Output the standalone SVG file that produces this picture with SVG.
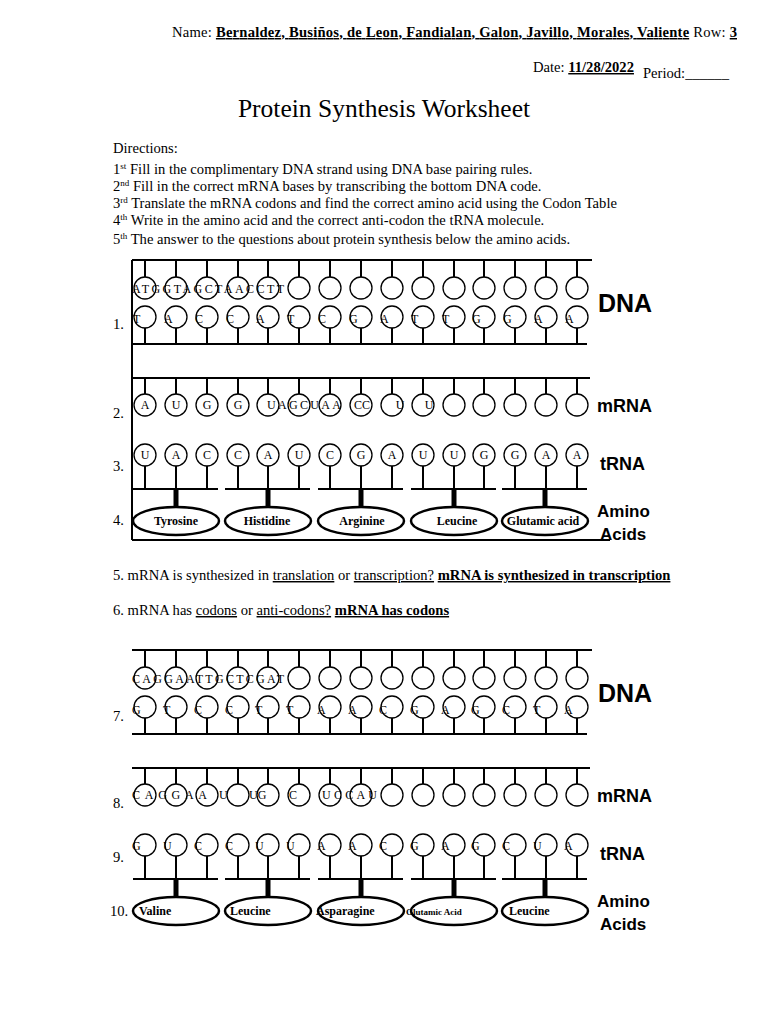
<svg xmlns="http://www.w3.org/2000/svg" width="768" height="1024" viewBox="0 0 768 1024">
<style>
.t{font-family:"Liberation Serif",serif;font-size:14.6px;fill:#000}
.b{font-weight:bold}
.s{font-family:"Liberation Serif",serif;font-size:12px;fill:#000}
.h{font-family:"Liberation Sans",sans-serif;font-weight:bold;fill:#000}
.am{font-family:"Liberation Serif",serif;font-weight:bold;font-size:12px;fill:#000;text-anchor:middle}
line{stroke:#000;stroke-width:2}
circle{fill:#fff;stroke:#000;stroke-width:1.3}
ellipse{fill:#fff;stroke:#000;stroke-width:2.5}
</style>
<defs>
<g id="dnaCol"><line x1="0" y1="0" x2="0" y2="17"/><circle cx="0" cy="28" r="11"/><circle cx="0" cy="57" r="11"/><line x1="0" y1="68" x2="0" y2="84"/></g>
<g id="mCol"><line x1="0" y1="0" x2="0" y2="16"/><circle cx="0" cy="27" r="11"/></g>
<g id="tCol"><circle cx="0" cy="0" r="11"/><line x1="0" y1="11" x2="0" y2="34"/></g>
<g id="amino"><line x1="-13" y1="34" x2="72" y2="34"/><line x1="30" y1="34" x2="30" y2="56" style="stroke-width:5"/><ellipse cx="30" cy="66" rx="43" ry="14"/></g>
<g id="section">
<line x1="132" y1="0" x2="592" y2="0"/><line x1="132" y1="84" x2="587" y2="84"/><line x1="132" y1="118" x2="590" y2="118"/>
<g id="cols">
<use href="#dnaCol" x="145"/><use href="#dnaCol" x="176"/><use href="#dnaCol" x="207"/><use href="#dnaCol" x="238"/><use href="#dnaCol" x="268"/><use href="#dnaCol" x="299"/><use href="#dnaCol" x="330"/><use href="#dnaCol" x="361"/><use href="#dnaCol" x="392"/><use href="#dnaCol" x="423"/><use href="#dnaCol" x="454"/><use href="#dnaCol" x="484"/><use href="#dnaCol" x="515"/><use href="#dnaCol" x="546"/><use href="#dnaCol" x="577"/>
</g>
<g transform="translate(0,118)">
<use href="#mCol" x="145"/><use href="#mCol" x="176"/><use href="#mCol" x="207"/><use href="#mCol" x="238"/><use href="#mCol" x="268"/><use href="#mCol" x="299"/><use href="#mCol" x="330"/><use href="#mCol" x="361"/><use href="#mCol" x="392"/><use href="#mCol" x="423"/><use href="#mCol" x="454"/><use href="#mCol" x="484"/><use href="#mCol" x="515"/><use href="#mCol" x="546"/><use href="#mCol" x="577"/>
</g>
<g transform="translate(0,195)">
<use href="#tCol" x="145"/><use href="#tCol" x="176"/><use href="#tCol" x="207"/><use href="#tCol" x="238"/><use href="#tCol" x="268"/><use href="#tCol" x="299"/><use href="#tCol" x="330"/><use href="#tCol" x="361"/><use href="#tCol" x="392"/><use href="#tCol" x="423"/><use href="#tCol" x="454"/><use href="#tCol" x="484"/><use href="#tCol" x="515"/><use href="#tCol" x="546"/><use href="#tCol" x="577"/>
<use href="#amino" x="146"/><use href="#amino" x="238"/><use href="#amino" x="331"/><use href="#amino" x="424"/><use href="#amino" x="515"/>
</g>
<text class="h" x="598" y="52" font-size="25">DNA</text>
<text class="h" x="597" y="152" font-size="18">mRNA</text>
<text class="h" x="600" y="210" font-size="18">tRNA</text>
<text class="h" x="597" y="257" font-size="17">Amino</text>
<text class="h" x="600" y="280" font-size="17">Acids</text>
</g>
</defs>

<g id="header">
<text class="t" x="172" y="37" textLength="565">Name: <tspan class="b" text-decoration="underline">Bernaldez, Busiños, de Leon, Fandialan, Galon, Javillo, Morales, Valiente</tspan> Row: <tspan class="b" text-decoration="underline">3</tspan></text>
<text class="t" x="533" y="72">Date: <tspan class="b" text-decoration="underline">11/28/2022</tspan></text>
<text class="t" x="643" y="78">Period:______</text>
<text x="384" y="117" text-anchor="middle" style="font-family:'Liberation Serif',serif;font-size:25.5px">Protein Synthesis Worksheet</text>
<text class="t" x="113" y="153">Directions:</text>
<text class="t" x="113" y="174">1<tspan font-size="9" dy="-5">st</tspan><tspan dy="5"> Fill in the complimentary DNA strand using DNA base pairing rules.</tspan></text>
<text class="t" x="113" y="191">2<tspan font-size="9" dy="-5">nd</tspan><tspan dy="5"> Fill in the correct mRNA bases by transcribing the bottom DNA code.</tspan></text>
<text class="t" x="113" y="208">3<tspan font-size="9" dy="-5">rd</tspan><tspan dy="5"> Translate the mRNA codons and find the correct amino acid using the Codon Table</tspan></text>
<text class="t" x="113" y="225">4<tspan font-size="9" dy="-5">th</tspan><tspan dy="5"> Write in the amino acid and the correct anti-codon the tRNA molecule.</tspan></text>
<text class="t" x="113" y="244">5<tspan font-size="9" dy="-5">th</tspan><tspan dy="5"> The answer to the questions about protein synthesis below the amino acids.</tspan></text>
</g>

<g id="section1">
<line x1="132" y1="260" x2="132" y2="540"/><line x1="132" y1="540" x2="610" y2="540"/>
<use href="#section" y="260"/>
<text class="t" x="113" y="329">1.</text><text class="t" x="113" y="418">2.</text><text class="t" x="113" y="471">3.</text><text class="t" x="113" y="525">4.</text>
<text class="s" x="132" y="293" textLength="152">ATGGTAGCTAACCTT</text>
<g class="s" transform="translate(-6,323)"><text x="139">T</text><text x="170">A</text><text x="201">C</text><text x="232">C</text><text x="262">A</text><text x="293">T</text><text x="324">C</text><text x="355">G</text><text x="386">A</text><text x="417">T</text><text x="448">T</text><text x="478">G</text><text x="509">G</text><text x="540">A</text><text x="571">A</text></g>
<g class="s" text-anchor="middle"><text x="145" y="409">A</text><text x="176" y="409">U</text><text x="207" y="409">G</text><text x="238" y="409">G</text><text x="267" y="409" text-anchor="start" textLength="74">UAGCUAA</text><text x="362" y="409">CC</text><text x="400" y="409">U</text><text x="429" y="409">U</text></g>
<g class="s" text-anchor="middle"><text x="145" y="459">U</text><text x="176" y="459">A</text><text x="207" y="459">C</text><text x="238" y="459">C</text><text x="268" y="459">A</text><text x="299" y="459">U</text><text x="330" y="459">C</text><text x="361" y="459">G</text><text x="392" y="459">A</text><text x="423" y="459">U</text><text x="454" y="459">U</text><text x="484" y="459">G</text><text x="515" y="459">G</text><text x="546" y="459">A</text><text x="577" y="459">A</text></g>
<text class="am" x="176" y="525">Tyrosine</text><text class="am" x="267" y="525">Histidine</text><text class="am" x="362" y="525">Arginine</text><text class="am" x="457" y="525">Leucine</text><text class="am" x="543" y="525" font-size="9">Glutamic acid</text>
</g>

<g id="questions">
<text class="t" x="113" y="580">5.  mRNA is synthesized in <tspan text-decoration="underline">translation</tspan> or <tspan text-decoration="underline">transcription?</tspan> <tspan class="b" text-decoration="underline">mRNA is synthesized in transcription</tspan></text>
<text class="t" x="113" y="615">6.  mRNA has <tspan text-decoration="underline">codons</tspan> or <tspan text-decoration="underline">anti-codons?</tspan> <tspan class="b" text-decoration="underline">mRNA has codons</tspan></text>
</g>

<g id="section2">
<use href="#section" y="650"/>
<text class="t" x="113" y="721">7.</text><text class="t" x="113" y="808">8.</text><text class="t" x="113" y="862">9.</text><text class="t" x="110" y="916">10.</text>
<text class="s" x="132" y="683" textLength="152">CAGGAATTGCTCGAT</text>
<g class="s" transform="translate(-7,714)"><text x="139">G</text><text x="170">T</text><text x="201">C</text><text x="232">C</text><text x="262">T</text><text x="293">T</text><text x="324">A</text><text x="355">A</text><text x="386">C</text><text x="417">G</text><text x="448">A</text><text x="478">G</text><text x="509">C</text><text x="540">T</text><text x="571">A</text></g>
<g class="s"><text x="132" y="799" textLength="75">CAGGAA</text><text x="219" y="799">U</text><text x="249" y="799">UG</text><text x="289" y="799">C</text><text x="322" y="799" textLength="55">UCCAU</text></g>
<g class="s" transform="translate(-7,850)"><text x="139">G</text><text x="170">U</text><text x="201">C</text><text x="232">C</text><text x="262">U</text><text x="293">U</text><text x="324">A</text><text x="355">A</text><text x="386">C</text><text x="417">G</text><text x="448">A</text><text x="478">G</text><text x="509">C</text><text x="540">U</text><text x="571">A</text></g>
<g class="am" text-anchor="start"><text x="139" y="915" text-anchor="start">Valine</text><text x="230" y="915" text-anchor="start">Leucine</text><text x="316" y="915" text-anchor="start">Asparagine</text><text x="406" y="915" text-anchor="start" font-size="9">Glutamic Acid</text><text x="509" y="915" text-anchor="start">Leucine</text></g>
</g>
</svg>
